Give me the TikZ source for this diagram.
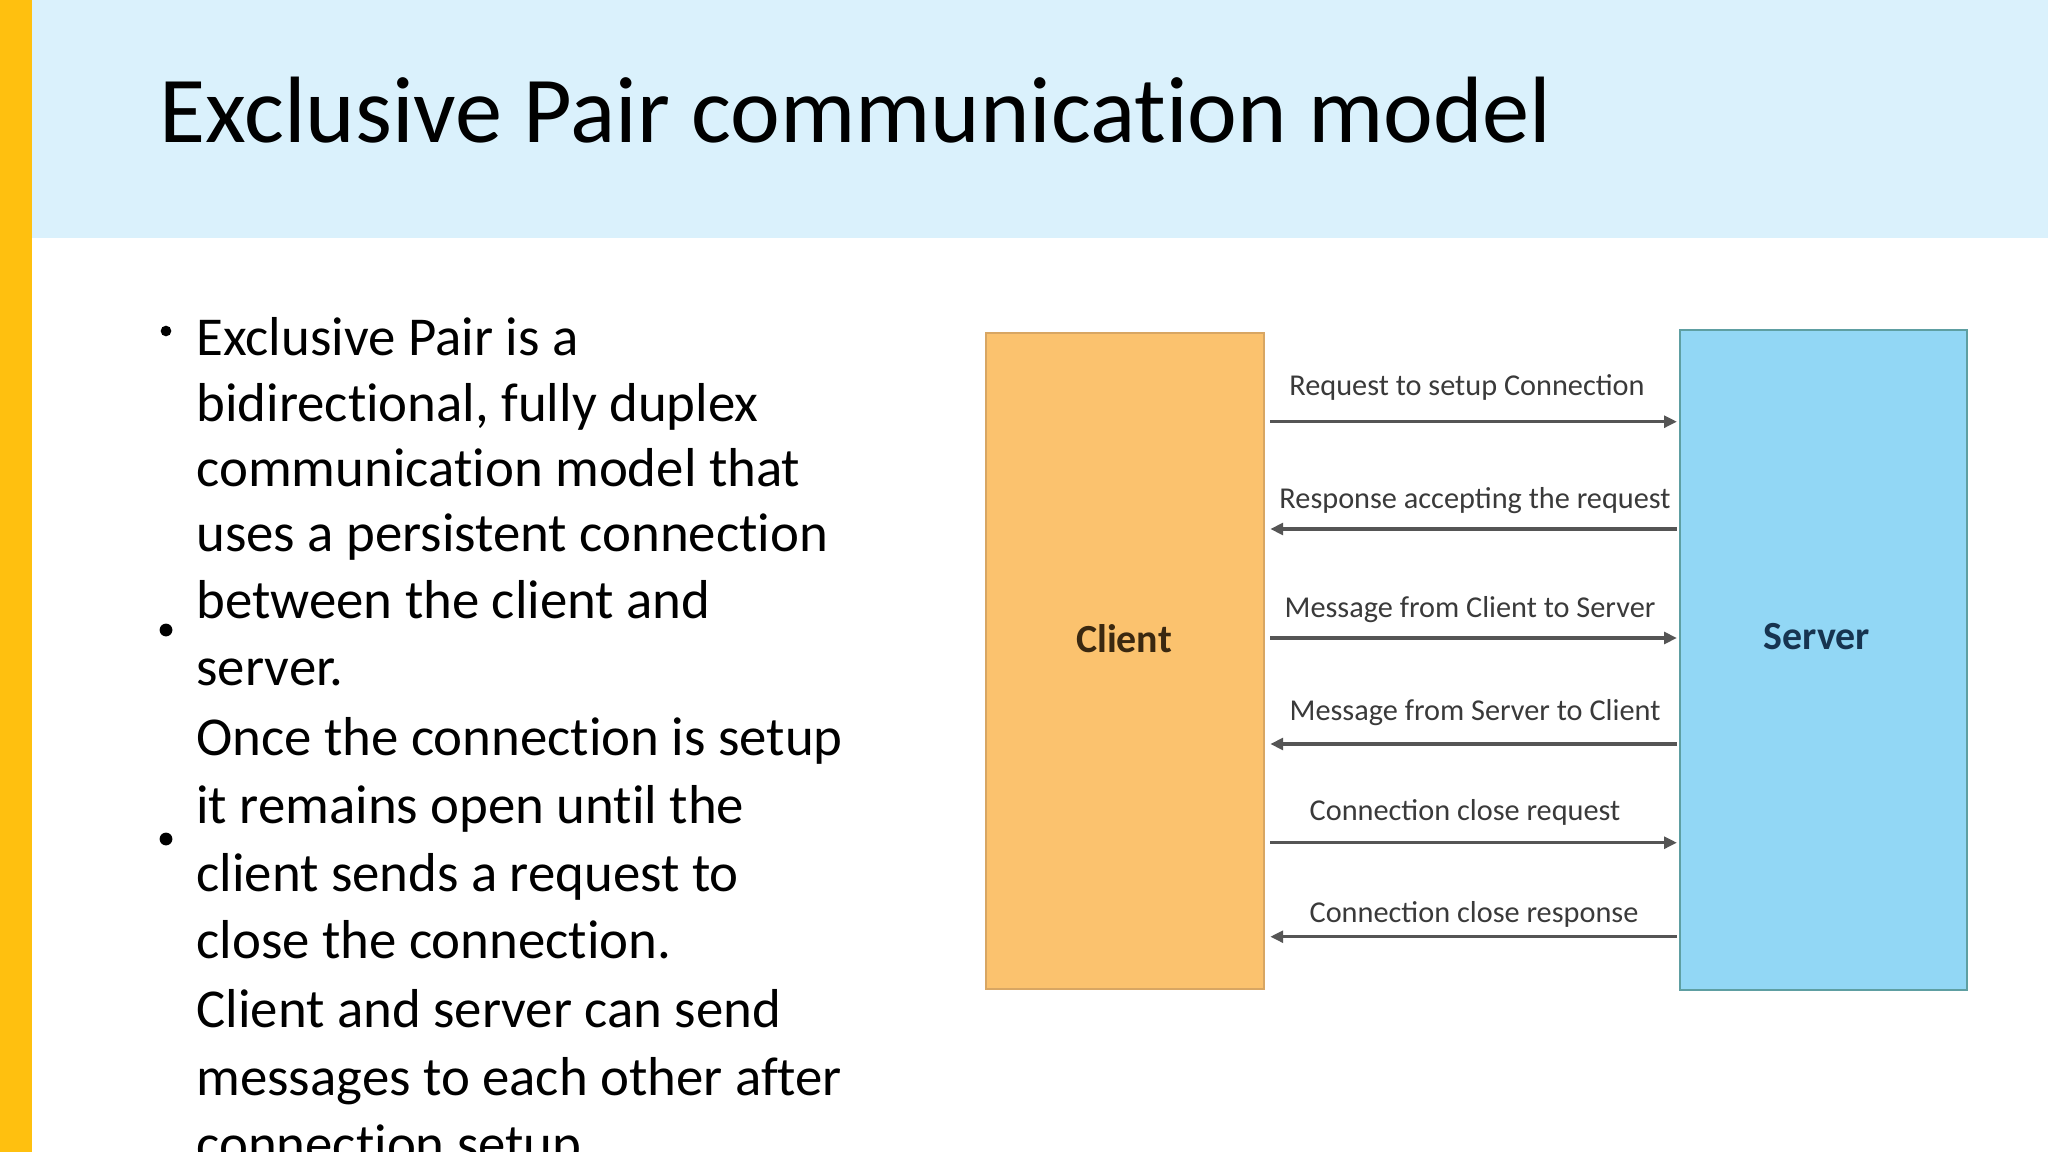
\documentclass[tikz,border=0pt]{standalone}
\usepackage{fontspec}
\setmainfont{Carlito}[Ligatures=NoCommon]
\newfontfamily\lblfont{Carlito}
\usetikzlibrary{arrows.meta}
\definecolor{hdrblue}{HTML}{DAF1FC}
\definecolor{baryel}{HTML}{FFC00F}
\definecolor{cfill}{HTML}{FBC26E}
\definecolor{cline}{HTML}{D8A663}
\definecolor{sfill}{HTML}{92D7F5}
\definecolor{sline}{HTML}{5E9FA2}
\definecolor{arrgrey}{HTML}{555555}
\definecolor{lblgrey}{HTML}{3A3A3A}
\definecolor{ctext}{HTML}{3A2810}
\definecolor{stext}{HTML}{173450}
\tikzset{
  bodyline/.style={anchor=base west, inner sep=0pt, font=\fontsize{25.7}{30}\selectfont},
  bulletdot/.style={circle, fill=black, inner sep=0pt, minimum size=6pt},
  msglabel/.style={anchor=base, inner sep=0pt, text=lblgrey, font=\lblfont\fontsize{14.2}{17}\selectfont},
  msgarrow/.style={draw=arrgrey, line width=1.5pt, -{Triangle[length=6pt,width=5.5pt]}},
  party/.style={rectangle, inner sep=0pt, line width=0.9pt},
  partytext/.style={inner sep=0pt, font=\bfseries\fontsize{18.7}{22}\selectfont}
}
\begin{document}
\begin{tikzpicture}[x=0.46875pt, y=-0.46875pt]
\useasboundingbox (0,0) rectangle (2048,1152);
\fill[white] (0,0) rectangle (2048,1152);
\fill[hdrblue] (0,0) rectangle (2048,238);
\fill[baryel] (0,0) rectangle (32,1152);
\node[anchor=base west, inner sep=0pt, font=\fontsize{44.2}{52}\selectfont] (title) at (159,142.7) {Exclusive Pair communication model};

% body text
\node[bodyline] (l1) at (196,355) {Exclusive Pair is a};
\node[bodyline] (l2) at (196,421.7) {bidirectional, fully duplex};
\node[bodyline] (l3) at (196,486.7) {communication model that};
\node[bodyline] (l4) at (196,551.7) {uses a persistent connection};
\node[bodyline] (l5) at (196,618) {between the client and};
\node[bodyline] (l6) at (196,685) {server.};
\node[bodyline] (l7) at (196,755) {Once the connection is setup};
\node[bodyline] (l8) at (196,823) {it remains open until the};
\node[bodyline] (l9) at (196,891) {client sends a request to};
\node[bodyline] (l10) at (196,958) {close the connection.};
\node[bodyline] (l11) at (196,1027) {Client and server can send};
\node[bodyline] (l12) at (196,1095) {messages to each other after};
\node[bodyline] (l13) at (196,1162) {connection setup.};
\node[bulletdot, minimum size=5pt] (b1) at (166,331) {};
\node[bulletdot] (b2) at (166,630) {};
\node[bulletdot] (b3) at (166,839) {};

% diagram
\node[party, fill=cfill, draw=cline, minimum width=278*0.46875pt, minimum height=656*0.46875pt] (client) at (1125,661) {};
\node[party, fill=sfill, draw=sline, minimum width=287*0.46875pt, minimum height=660*0.46875pt] (server) at (1823.5,660) {};
\node[partytext, text=ctext] (clientlbl) at (1124,639) {Client};
\node[partytext, text=stext] (serverlbl) at (1817,637) {Server};

\coordinate (r1) at (0,421.7);
\coordinate (r2) at (0,529);
\coordinate (r3) at (0,638);
\coordinate (r4) at (0,744);
\coordinate (r5) at (0,842.7);
\coordinate (r6) at (0,936.7);

\draw[msgarrow, shorten <=2.5pt, shorten >=1pt] (client.east |- r1) -- (server.west |- r1);
\draw[msgarrow, shorten <=1pt, shorten >=2.5pt] (server.west |- r2) -- (client.east |- r2);
\draw[msgarrow, shorten <=2.5pt, shorten >=1pt] (client.east |- r3) -- (server.west |- r3);
\draw[msgarrow, shorten <=1pt, shorten >=2.5pt] (server.west |- r4) -- (client.east |- r4);
\draw[msgarrow, shorten <=2.5pt, shorten >=1pt] (client.east |- r5) -- (server.west |- r5);
\draw[msgarrow, shorten <=1pt, shorten >=2.5pt] (server.west |- r6) -- (client.east |- r6);

\node[msglabel] (m1) at (1467,395) {Request to setup Connection};
\node[msglabel] (m2) at (1475,508) {Response accepting the request};
\node[msglabel] (m3) at (1470,617) {Message from Client to Server};
\node[msglabel] (m4) at (1475,720) {Message from Server to Client};
\node[msglabel] (m5) at (1465,820) {Connection close request};
\node[msglabel] (m6) at (1474,922) {Connection close response};
\end{tikzpicture}
\end{document}
